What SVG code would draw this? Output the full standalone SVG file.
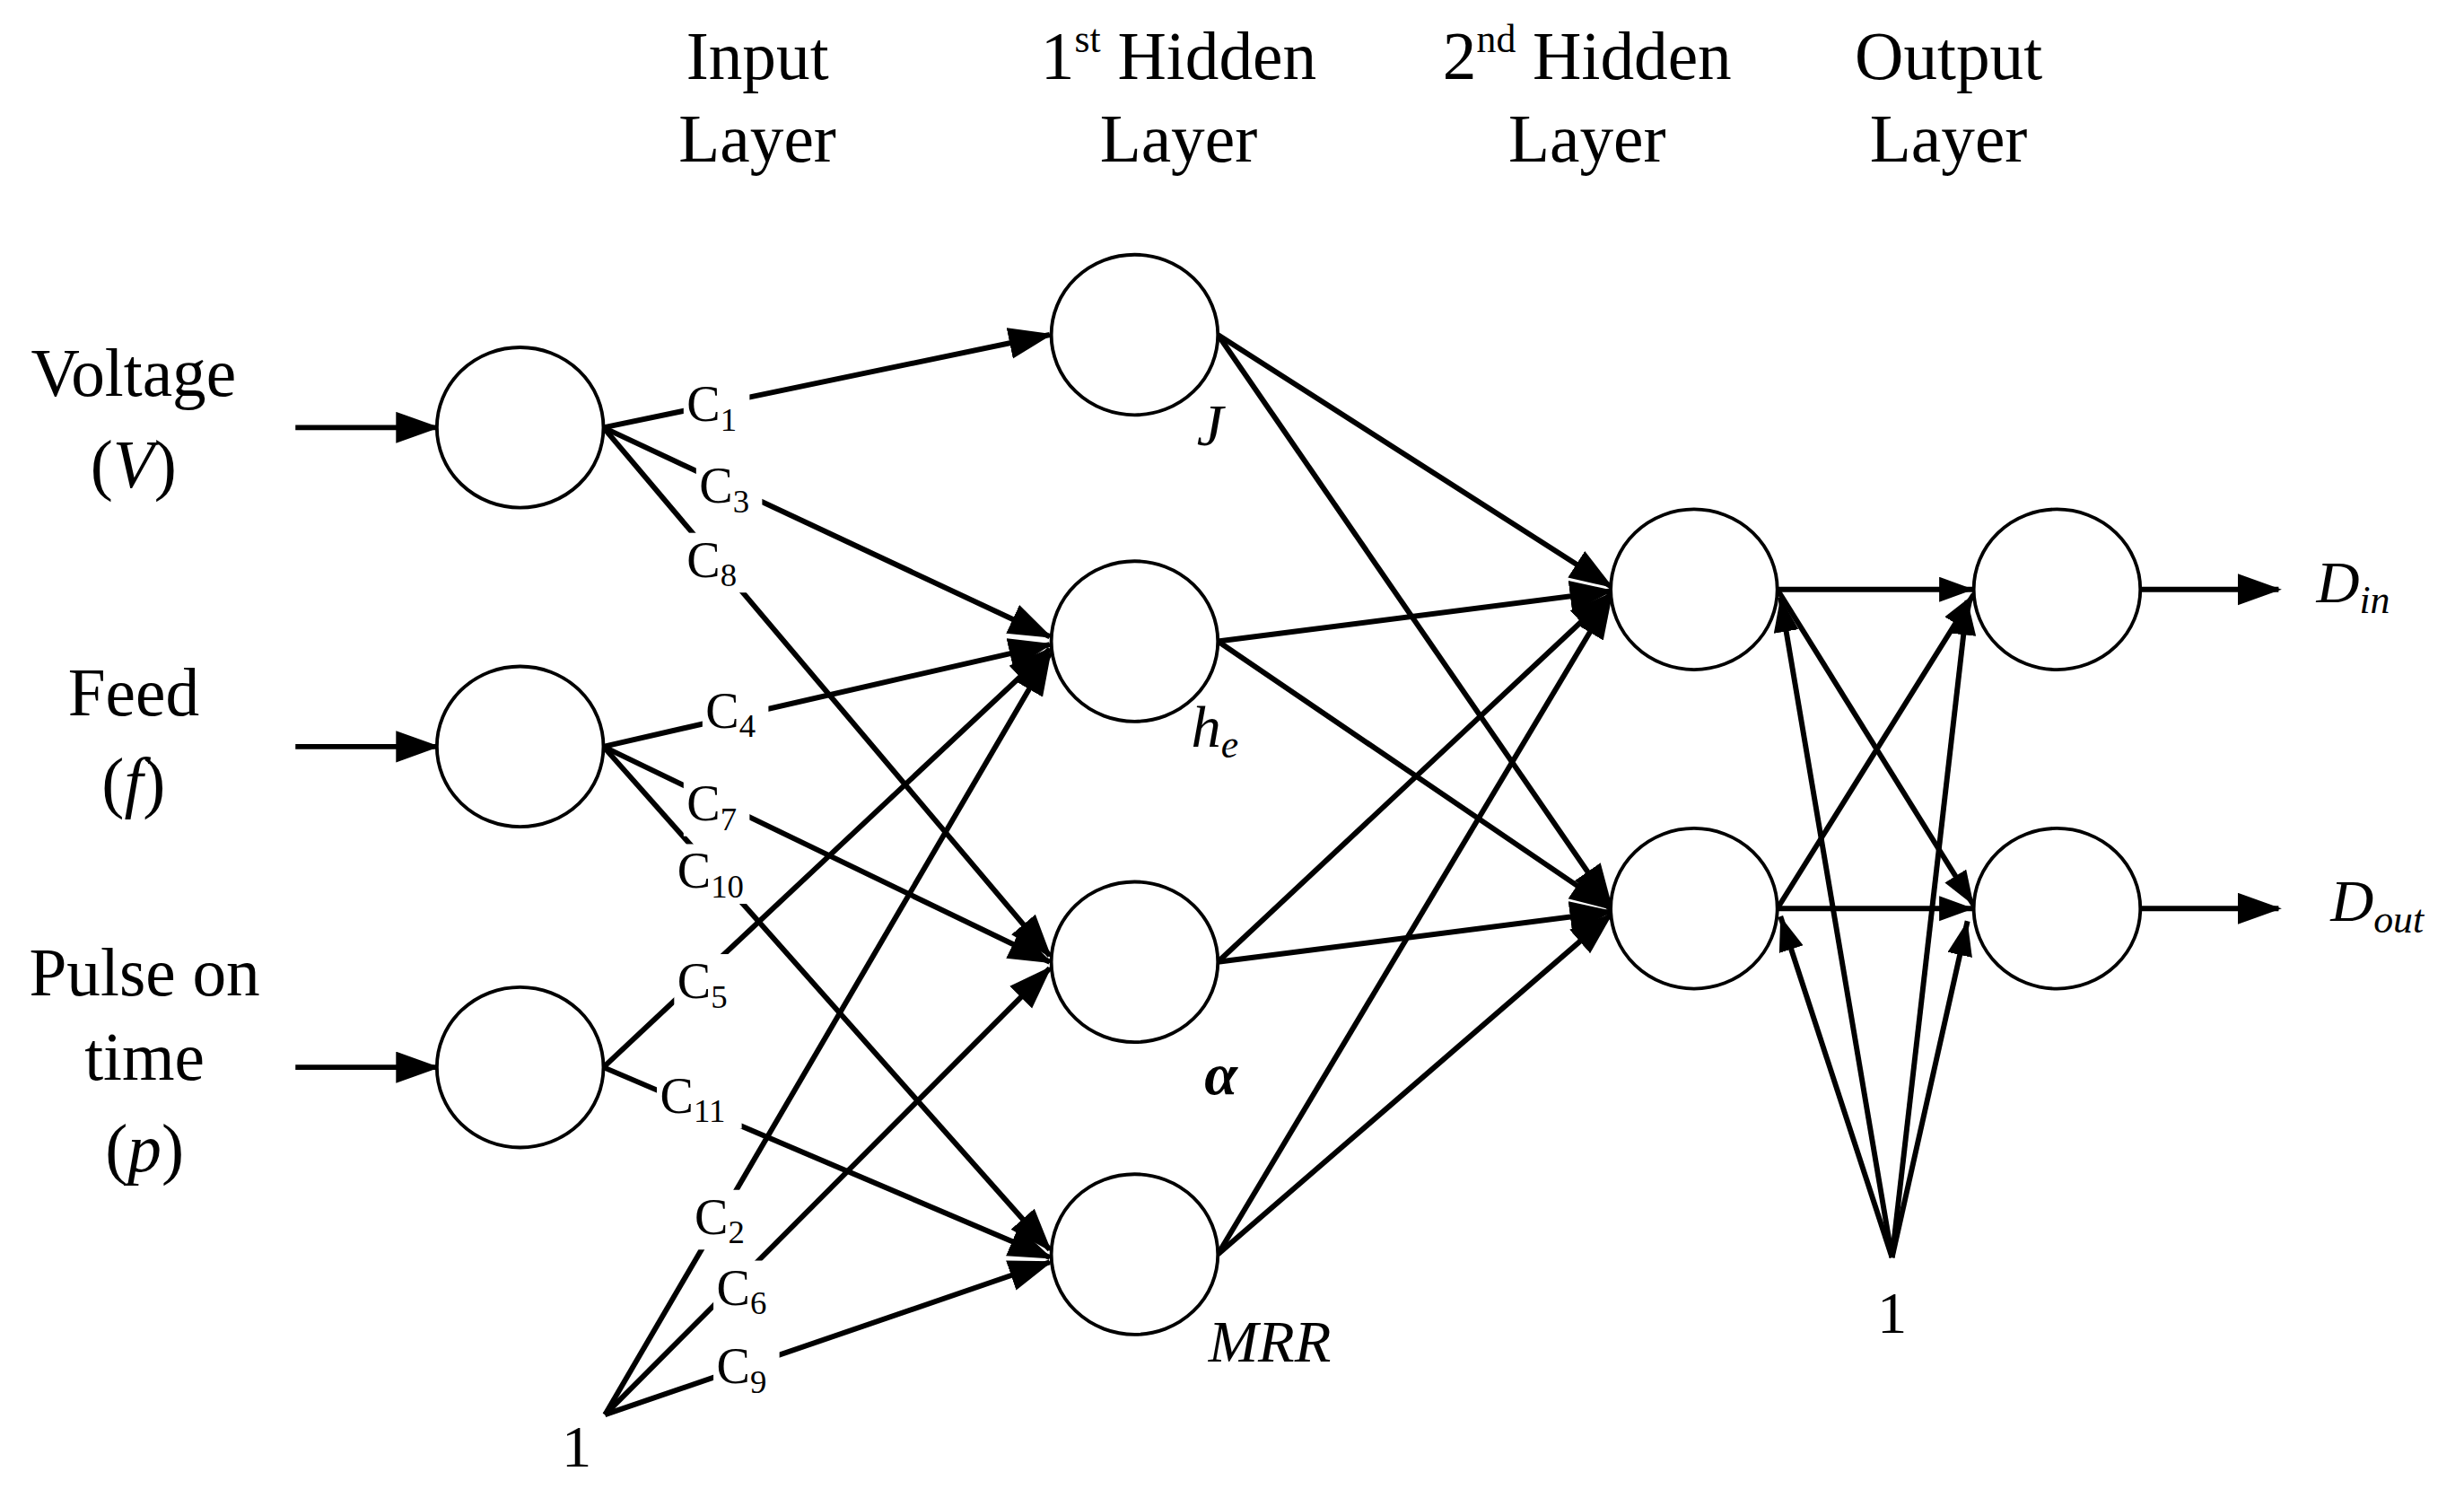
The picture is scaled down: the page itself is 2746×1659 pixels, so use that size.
<svg xmlns="http://www.w3.org/2000/svg" width="2746" height="1659" viewBox="0 0 2746 1659">
<defs>
<marker id="ah" markerUnits="userSpaceOnUse" markerWidth="30" markerHeight="24" refX="26" refY="10" orient="auto"><path d="M0,0 L28,10 L0,20 Z" fill="#000"/></marker>
<marker id="as" markerUnits="userSpaceOnUse" markerWidth="24" markerHeight="20" refX="22" refY="8" orient="auto"><path d="M0,0 L22,8 L0,16 Z" fill="#000"/></marker>
</defs>
<style>
.n{fill:#fff;stroke:#000;stroke-width:2.2}
.c line{stroke:#000;stroke-width:3.4}
.t{font-family:"Liberation Serif","Times New Roman",serif;fill:#000}
.h{font-size:43px;text-anchor:middle}
.w{font-size:32px}
.s{font-size:21px}
.i{font-style:italic}
.b{fill:#fff}
</style>
<rect width="2746" height="1659" fill="#fff"/>
<g transform="scale(1.7513)">
<g id="connectors" class="c">
<line x1="188" y1="272" x2="278" y2="272" marker-end="url(#ah)" stroke-width="4.5"/>
<line x1="188" y1="475" x2="278" y2="475" marker-end="url(#ah)" stroke-width="4.5"/>
<line x1="188" y1="679" x2="278" y2="679" marker-end="url(#ah)" stroke-width="4.5"/>
<line x1="384" y1="272" x2="668" y2="213" marker-end="url(#ah)"/>
<line x1="384" y1="272" x2="668" y2="405" marker-end="url(#ah)"/>
<line x1="384" y1="272" x2="668" y2="608" marker-end="url(#ah)"/>
<line x1="384" y1="475" x2="668" y2="410" marker-end="url(#ah)"/>
<line x1="384" y1="475" x2="668" y2="612" marker-end="url(#ah)"/>
<line x1="384" y1="475" x2="668" y2="795" marker-end="url(#ah)"/>
<line x1="384" y1="679" x2="668" y2="413" marker-end="url(#ah)"/>
<line x1="384" y1="679" x2="668" y2="800" marker-end="url(#ah)"/>
<line x1="385" y1="900" x2="668" y2="416" marker-end="url(#ah)"/>
<line x1="385" y1="900" x2="668" y2="616" marker-end="url(#ah)"/>
<line x1="385" y1="900" x2="668" y2="803" marker-end="url(#ah)"/>
<line x1="775" y1="213" x2="1025" y2="373" marker-end="url(#ah)"/>
<line x1="775" y1="213" x2="1025" y2="576" marker-end="url(#ah)"/>
<line x1="775" y1="408" x2="1025" y2="376" marker-end="url(#ah)"/>
<line x1="775" y1="408" x2="1025" y2="578" marker-end="url(#ah)"/>
<line x1="775" y1="612" x2="1025" y2="378" marker-end="url(#ah)"/>
<line x1="775" y1="612" x2="1025" y2="580" marker-end="url(#ah)"/>
<line x1="775" y1="798" x2="1025" y2="380" marker-end="url(#ah)"/>
<line x1="775" y1="798" x2="1025" y2="582" marker-end="url(#ah)"/>
<line x1="1131" y1="375" x2="1256" y2="375" marker-end="url(#as)"/>
<line x1="1131" y1="375" x2="1256" y2="576" marker-end="url(#as)"/>
<line x1="1131" y1="578" x2="1256" y2="378" marker-end="url(#as)"/>
<line x1="1131" y1="578" x2="1256" y2="578" marker-end="url(#as)"/>
<line x1="1204" y1="800" x2="1133" y2="380" marker-end="url(#as)"/>
<line x1="1204" y1="800" x2="1133" y2="583" marker-end="url(#as)"/>
<line x1="1204" y1="800" x2="1252" y2="382" marker-end="url(#as)"/>
<line x1="1204" y1="800" x2="1252" y2="586" marker-end="url(#as)"/>
<line x1="1362" y1="375" x2="1450" y2="375" marker-end="url(#ah)"/>
<line x1="1362" y1="578" x2="1450" y2="578" marker-end="url(#ah)"/>
</g>
<g id="input-nodes">
<ellipse id="in-v" class="n" cx="331" cy="272" rx="53" ry="51"/>
<ellipse id="in-f" class="n" cx="331" cy="475" rx="53" ry="51"/>
<ellipse id="in-p" class="n" cx="331" cy="679" rx="53" ry="51"/>
</g>
<g id="hidden1-nodes">
<ellipse id="h-j" class="n" cx="722" cy="213" rx="53" ry="51"/>
<ellipse id="h-he" class="n" cx="722" cy="408" rx="53" ry="51"/>
<ellipse id="h-a" class="n" cx="722" cy="612" rx="53" ry="51"/>
<ellipse id="h-mrr" class="n" cx="722" cy="798" rx="53" ry="51"/>
</g>
<g id="hidden2-nodes">
<ellipse id="h2-1" class="n" cx="1078" cy="375" rx="53" ry="51"/>
<ellipse id="h2-2" class="n" cx="1078" cy="578" rx="53" ry="51"/>
</g>
<g id="output-nodes">
<ellipse id="o-1" class="n" cx="1309" cy="375" rx="53" ry="51"/>
<ellipse id="o-2" class="n" cx="1309" cy="578" rx="53" ry="51"/>
</g>
<g id="weight-labels">
<rect class="b" x="435" y="240" width="42" height="38"/>
<rect class="b" x="443" y="292" width="42" height="38"/>
<rect class="b" x="435" y="339" width="42" height="38"/>
<rect class="b" x="447" y="435" width="42" height="38"/>
<rect class="b" x="435" y="494" width="42" height="38"/>
<rect class="b" x="429" y="537" width="54" height="38"/>
<rect class="b" x="429" y="607" width="42" height="38"/>
<rect class="b" x="418" y="680" width="54" height="38"/>
<rect class="b" x="440" y="757" width="42" height="38"/>
<rect class="b" x="454" y="802" width="42" height="38"/>
<rect class="b" x="454" y="852" width="42" height="38"/>
<text class="t w" x="437" y="268">C<tspan class="s" dy="6">1</tspan></text>
<text class="t w" x="445" y="320">C<tspan class="s" dy="6">3</tspan></text>
<text class="t w" x="437" y="367">C<tspan class="s" dy="6">8</tspan></text>
<text class="t w" x="449" y="463">C<tspan class="s" dy="6">4</tspan></text>
<text class="t w" x="437" y="522">C<tspan class="s" dy="6">7</tspan></text>
<text class="t w" x="431" y="565">C<tspan class="s" dy="6">10</tspan></text>
<text class="t w" x="431" y="635">C<tspan class="s" dy="6">5</tspan></text>
<text class="t w" x="420" y="708">C<tspan class="s" dy="6">11</tspan></text>
<text class="t w" x="442" y="785">C<tspan class="s" dy="6">2</tspan></text>
<text class="t w" x="456" y="830">C<tspan class="s" dy="6">6</tspan></text>
<text class="t w" x="456" y="880">C<tspan class="s" dy="6">9</tspan></text>
</g>
<g id="labels">
<text class="t h" x="482" y="50">Input</text>
<text class="t h" x="482" y="103">Layer</text>
<text class="t h" x="750" y="50">1<tspan font-size="25" dy="-17">st</tspan><tspan dy="17"> Hidden</tspan></text>
<text class="t h" x="750" y="103">Layer</text>
<text class="t h" x="1010" y="50">2<tspan font-size="25" dy="-17">nd</tspan><tspan dy="17"> Hidden</tspan></text>
<text class="t h" x="1010" y="103">Layer</text>
<text class="t h" x="1240" y="50">Output</text>
<text class="t h" x="1240" y="103">Layer</text>
<text class="t h" x="85" y="252">Voltage</text>
<text class="t h" x="85" y="310">(<tspan font-style="italic">V</tspan>)</text>
<text class="t h" x="85" y="455">Feed</text>
<text class="t h" x="85" y="512">(<tspan font-style="italic">f</tspan>)</text>
<text class="t h" x="92" y="633">Pulse on</text>
<text class="t h" x="92" y="687">time</text>
<text class="t h" x="92" y="745">(<tspan font-style="italic">p</tspan>)</text>
<text class="t" x="367" y="933" font-size="38" text-anchor="middle">1</text>
<text class="t" x="1204" y="848" font-size="38" text-anchor="middle">1</text>
<text class="t i" x="770" y="283" font-size="38" text-anchor="middle">J</text>
<text class="t i" x="773" y="475" font-size="38" text-anchor="middle">h<tspan font-size="25" dy="7">e</tspan></text>
<text class="t i" x="777" y="696" font-size="38" text-anchor="middle" font-weight="bold">α</text>
<text class="t i" x="808" y="866" font-size="38" text-anchor="middle">MRR</text>
<text class="t i" x="1474" y="383" font-size="38">D<tspan font-size="25" dy="7">in</tspan></text>
<text class="t i" x="1483" y="586" font-size="38">D<tspan font-size="25" dy="7">out</tspan></text>
</g>
</g>
</svg>
